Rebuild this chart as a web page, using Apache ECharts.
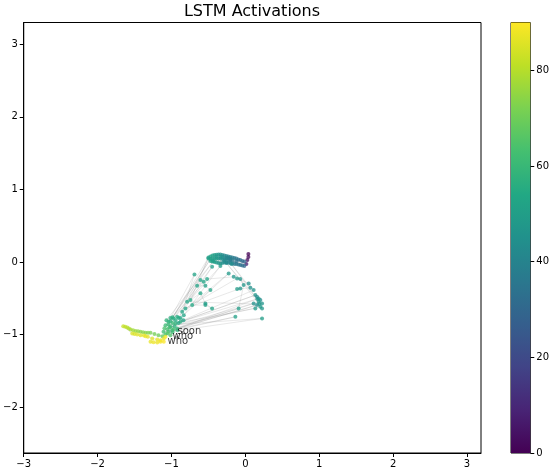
<!DOCTYPE html>
<html>
<head>
<meta charset="utf-8">
<script src="https://cdn.jsdelivr.net/npm/echarts@6/dist/echarts.min.js"></script>
<style>
html,body{margin:0;padding:0;background:#fff;}
#chart{width:552px;height:470px;}
</style>
</head>
<body>
<div id="chart"></div>
<script>
// ---- data (sequence order) ----
const xs = [0.041,0.041,0.027,0.014,
-0.014,-0.014,-0.041,-0.041,-0.068,-0.068,-0.095,-0.095,-0.122,-0.122,-0.149,-0.149,-0.176,-0.176,-0.203,-0.203,-0.203,-0.230,-0.230,-0.230,-0.257,-0.257,-0.257,-0.284,-0.284,-0.284,-0.311,-0.311,-0.311,-0.338,-0.338,-0.338,-0.365,-0.365,-0.365,-0.392,-0.392,-0.392,-0.419,-0.419,-0.419,-0.446,-0.446,-0.473,-0.473,
-0.122,-0.176,-0.203,-0.230,-0.257,-0.284,-0.311,-0.338,-0.392,-0.446,
-0.500,
-0.905,-0.450,-0.973,-0.338,-0.834,-0.226,-0.855,-0.689,-1.041,-0.518,-0.158,0.045,0.112,-0.946,0.135,0.158,-0.878,0.180,0.203,-0.923,0.180,0.226,-0.991,0.158,0.203,0.226,-1.014,0.112,0.135,-1.081,0.226,-1.041,-0.135,-1.108,-0.091,-0.023,-0.068,-0.112,-0.811,-0.068,-0.112,0.068,
-0.189,0.162,-0.257,0.189,
-0.788,-0.608,-0.564,-0.653,-0.541,-0.473,-0.720,-0.541,-0.450,-0.541,-0.608,-0.743,
-0.500,-1.014,-0.473,-0.986,-0.432,
-1.068,-1.014,-0.986,-1.027,-0.959,-1.054,-0.986,-0.919,-1.081,-1.014,-0.946,-0.905,-0.878,-0.838,-0.923,-1.041,-0.973,-1.095,-1.054,-1.122,
-1.176,-1.230,-1.284,-1.318,-1.351,-1.385,-1.419,-1.453,-1.486,-1.520,-1.554,-1.577,-1.599,-1.626,-1.653,
-1.531,-1.500,-1.464,-1.419,-1.374,-1.351,-1.320,
-1.261,-1.193,-1.149,-1.104,-1.081,-1.104,-1.149,-1.193,-1.243,-1.284];
const ys = [0.110,0.069,0.028,-0.028,
0.007,-0.055,0.014,-0.048,0.028,-0.041,0.037,-0.034,0.048,-0.028,0.055,-0.025,0.062,-0.021,0.069,-0.014,0.028,0.076,-0.011,0.034,0.083,-0.007,0.041,0.090,-0.007,0.041,0.097,-0.014,0.041,0.103,-0.021,0.048,0.103,-0.014,0.048,0.101,-0.007,0.048,0.097,0.000,0.048,0.090,0.007,0.076,0.014,
0.010,0.020,0.045,0.055,0.060,0.020,0.070,0.075,0.075,0.045,
0.048,
-0.772,-0.065,-0.777,-0.055,-0.731,-0.156,-0.686,-0.170,-0.823,-0.234,-0.203,-0.294,-0.386,-0.846,-0.455,-0.479,-0.823,-0.501,-0.524,-0.914,-0.548,-0.570,-0.938,-0.593,-0.617,-0.639,-0.892,-0.570,-0.639,-0.869,-0.777,-0.961,-0.754,-0.961,-0.639,-0.317,-0.234,-0.225,-0.639,-0.363,-0.372,-0.354,
-0.028,-0.510,-0.014,-0.579,
-0.548,-0.248,-0.272,-0.327,-0.327,-0.386,-0.593,-0.593,-0.639,-0.570,-0.428,-0.524,
0.062,-0.814,0.041,-0.759,0.014,
-0.800,-0.772,-0.841,-0.897,-0.883,-0.924,-0.966,-0.938,-0.993,-1.007,-0.800,-0.841,-0.772,-0.800,-0.754,-0.855,-0.924,-0.910,-0.979,-1.021,
-1.007,-0.990,-0.975,-0.975,-0.975,-0.968,-0.961,-0.954,-0.948,-0.938,-0.928,-0.914,-0.901,-0.891,-0.883,
-0.983,-0.990,-0.997,-1.007,-1.011,-1.021,-1.030,
-1.052,-1.066,-1.076,-1.052,-1.030,-1.099,-1.099,-1.108,-1.103,-1.099];
const cs = [0,1,3,8,
30,30,31,32,33,33,34,35,35,36,36,37,37,38,38,39,39,40,40,40,41,41,41,42,42,43,43,44,44,45,45,46,46,47,47,48,48,49,49,50,50,51,51,52,52,
34,37,38,40,41,42,44,45,48,50,
53,
55,50,56,49,52,48,53,52,57,52,47,45,46,58,47,42,56,47,44,59,48,46,60,43,49,47,59,45,48,61,50,61,51,62,50,47,46,48,53,47,49,45,
44,46,43,47,
53,52,53,52,51,52,54,51,52,50,53,54,
50,57,51,56,50,
58,56,60,62,57,63,61,58,64,65,55,54,53,52,55,60,63,64,66,68,
70,71,72,73,73,74,74,75,76,77,78,79,80,81,82,
85,85,86,86,87,87,87,
86,87,88,88,89,90,89,88,88,87];

const words = ['soon', 'who', 'who'];
const wordX = [-0.919, -0.986, -1.054];
const wordY = [-0.993, -1.062, -1.131];

const xTicks = [-3, -2, -1, 0, 1, 2, 3];
const yTicks = [-2, -1, 0, 1, 2, 3];
const cTicks = [0, 20, 40, 60, 80];
const xRange = [-3, 3.19];
const yRange = [-2.63, 3.30];
const cRange = [0, 90];

const viridis = ['#440154','#482475','#414487','#355f8d','#2a788e','#21918c','#22a884','#44bf70','#7ad151','#bddf26','#fde725'];

// ---- chart ----
const FONT = 'DejaVu Sans';
const minus = v => String(v).replace('-', '\u2212');
const chart = echarts.init(document.getElementById('chart'), null, {renderer: 'canvas'});

const pts = xs.map((x, i) => [x, ys[i], cs[i]]);
const path = xs.map((x, i) => [x, ys[i]]);
const wordPts = words.map((w, i) => [wordX[i], wordY[i]]);

const axisCommon = {
  axisLine: {show: true, onZero: false, lineStyle: {color: '#000', width: 1}},
  axisTick: {show: true, inside: false, length: 4, lineStyle: {color: '#000', width: 1}},
  splitLine: {show: false},
  axisLabel: {color: '#000', fontSize: 10, fontFamily: FONT, formatter: minus}
};

chart.setOption({
  animation: false,
  backgroundColor: '#fff',
  title: {
    text: 'LSTM Activations', left: 252, top: 4, textAlign: 'center', padding: 0,
    textStyle: {fontFamily: FONT, fontSize: 16, fontWeight: 'normal', color: '#000'}
  },
  grid: [
    {left: 23, top: 22.5, width: 458, height: 430.5, show: true, borderColor: '#000', borderWidth: 1, backgroundColor: 'transparent'},
    {left: 511, top: 22.5, width: 21, height: 430.5, show: true, borderColor: '#000', borderWidth: 1, backgroundColor: 'transparent'}
  ],
  xAxis: [
    Object.assign({}, axisCommon, {type: 'value', gridIndex: 0, min: xRange[0], max: xRange[1],
      axisLabel: Object.assign({}, axisCommon.axisLabel, {margin: 6, customValues: xTicks}),
      axisTick: Object.assign({}, axisCommon.axisTick, {customValues: xTicks})}),
    {type: 'category', gridIndex: 1, data: ['c'], show: false}
  ],
  yAxis: [
    Object.assign({}, axisCommon, {type: 'value', gridIndex: 0, min: yRange[0], max: yRange[1],
      axisLabel: Object.assign({}, axisCommon.axisLabel, {margin: 6, customValues: yTicks}),
      axisTick: Object.assign({}, axisCommon.axisTick, {customValues: yTicks})}),
    Object.assign({}, axisCommon, {type: 'value', gridIndex: 1, position: 'right', min: cRange[0], max: cRange[1],
      axisLine: {show: false},
      axisLabel: Object.assign({}, axisCommon.axisLabel, {margin: 6, customValues: cTicks}),
      axisTick: Object.assign({}, axisCommon.axisTick, {customValues: cTicks})})
  ],
  visualMap: {
    show: false, type: 'continuous', min: cRange[0], max: cRange[1], dimension: 2, seriesIndex: 1,
    inRange: {color: viridis}
  },
  series: [
    {
      type: 'line', xAxisIndex: 0, yAxisIndex: 0, data: path, showSymbol: false, symbol: 'none',
      lineStyle: {color: '#808080', width: 1, opacity: 0.18}, z: 1, silent: true
    },
    {
      type: 'scatter', xAxisIndex: 0, yAxisIndex: 0, data: pts, symbolSize: 4,
      itemStyle: {opacity: 0.75}, z: 2, silent: true
    },
    {
      type: 'scatter', xAxisIndex: 0, yAxisIndex: 0, data: wordPts, symbolSize: 0, z: 3, silent: true,
      label: {show: true, position: [0, 0], offset: [0, 2], align: 'left', verticalAlign: 'bottom',
        formatter: p => words[p.dataIndex], color: '#000', fontSize: 10, fontFamily: FONT}
    },
    {
      type: 'bar', xAxisIndex: 1, yAxisIndex: 1, data: [cRange[1]], barWidth: '100%', silent: true,
      itemStyle: {color: {type: 'linear', x: 0, y: 1, x2: 0, y2: 0,
        colorStops: viridis.map((c, i) => ({offset: i / (viridis.length - 1), color: c}))}}
    }
  ]
});
</script>
</body>
</html>
